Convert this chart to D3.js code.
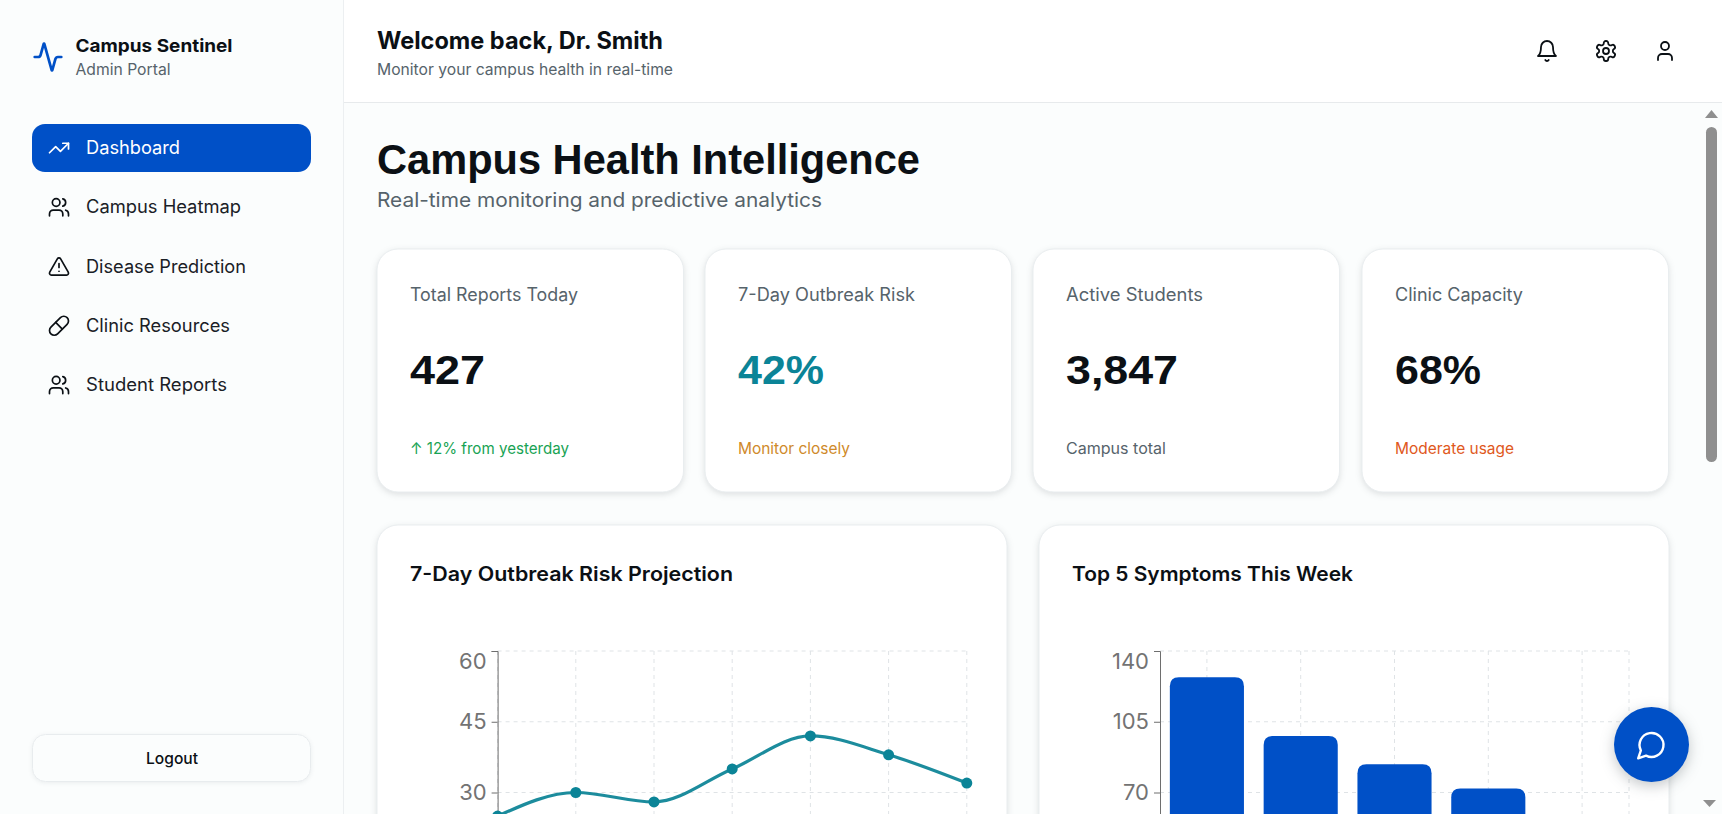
<!DOCTYPE html>
<html>
<head>
<meta charset="utf-8">
<title>Campus Sentinel</title>
<script src="https://cdn.jsdelivr.net/npm/d3@7"></script>
<style>
  html, body { margin: 0; padding: 0; background: #fbfdfd; overflow: hidden; }
  svg { display: block; }
  text { font-family: Inter, "Liberation Sans", sans-serif; }
  .card { filter: drop-shadow(0 2px 3px rgba(20, 30, 40, .13)); }
  .soft { filter: drop-shadow(0 1px 2px rgba(20, 30, 40, .07)); }
  .fab { filter: drop-shadow(0 4px 7px rgba(20, 30, 40, .25)); }
  .icon { fill: none; stroke-linecap: round; stroke-linejoin: round; }
</style>
</head>
<body>
<div class="chart"></div>
<script>
// chart data
var riskDays = ["Day 1", "Day 2", "Day 3", "Day 4", "Day 5", "Day 6", "Day 7"]; // labels are below the fold
var riskValues = [25, 30, 28, 35, 42, 38, 32];
var riskTicks = [30, 45, 60]; // 15 and 0 are below the fold

var symptomNames = ["Symptom 1", "Symptom 2", "Symptom 3", "Symptom 4", "Symptom 5"]; // labels are below the fold
var symptomValues = [127, 98, 84, 72, 45]; // last bar is below the fold, rough guess
var symptomTicks = [70, 105, 140]; // 35 and 0 are below the fold

var navLabels = ["Dashboard", "Campus Heatmap", "Disease Prediction", "Clinic Resources", "Student Reports"];
var navWidths = [94, 155, 160, 144, 141];

var statLabels = ["Total Reports Today", "7-Day Outbreak Risk", "Active Students", "Clinic Capacity"];
var statValues = ["427", "42%", "3,847", "68%"];
var statNotes = ["↑ 12% from yesterday", "Monitor closely", "Campus total", "Moderate usage"];

var blue = "#0050c7", teal = "#0b8497", ink = "#0b1015", gray = "#56636b";

// lucide icons
var icons = {
  activity: ["M22 12h-2.48a2 2 0 0 0-1.93 1.46l-2.35 8.36a.25.25 0 0 1-.48 0L9.24 2.18a.25.25 0 0 0-.48 0l-2.35 8.36A2 2 0 0 1 4.49 12H2"],
  trending: ["M22 7 13.5 15.5 8.5 10.5 2 17", "M16 7h6v6"],
  users: ["M16 21v-2a4 4 0 0 0-4-4H6a4 4 0 0 0-4 4v2", "M5 7a4 4 0 1 0 8 0a4 4 0 1 0-8 0", "M22 21v-2a4 4 0 0 0-3-3.87", "M16 3.13a4 4 0 0 1 0 7.75"],
  alert: ["m21.73 18-8-14a2 2 0 0 0-3.48 0l-8 14A2 2 0 0 0 4 21h16a2 2 0 0 0 1.73-3", "M12 9v4", "M12 17h.01"],
  pill: ["m10.5 20.5 10-10a4.95 4.95 0 1 0-7-7l-10 10a4.95 4.95 0 1 0 7 7Z", "m8.5 8.5 7 7"],
  bell: ["M6 8a6 6 0 0 1 12 0c0 7 3 9 3 9H3s3-2 3-9", "M10.3 21a1.94 1.94 0 0 0 3.4 0"],
  gear: ["M12.22 2h-.44a2 2 0 0 0-2 2v.18a2 2 0 0 1-1 1.73l-.43.25a2 2 0 0 1-2 0l-.15-.08a2 2 0 0 0-2.73.73l-.22.38a2 2 0 0 0 .73 2.73l.15.1a2 2 0 0 1 1 1.72v.51a2 2 0 0 1-1 1.74l-.15.09a2 2 0 0 0-.73 2.73l.22.38a2 2 0 0 0 2.73.73l.15-.08a2 2 0 0 1 2 0l.43.25a2 2 0 0 1 1 1.73V20a2 2 0 0 0 2 2h.44a2 2 0 0 0 2-2v-.18a2 2 0 0 1 1-1.73l.43-.25a2 2 0 0 1 2 0l.15.08a2 2 0 0 0 2.73-.73l.22-.39a2 2 0 0 0-.73-2.73l-.15-.08a2 2 0 0 1-1-1.74v-.5a2 2 0 0 1 1-1.74l.15-.09a2 2 0 0 0 .73-2.73l-.22-.38a2 2 0 0 0-2.73-.73l-.15.08a2 2 0 0 1-2 0l-.43-.25a2 2 0 0 1-1-1.73V4a2 2 0 0 0-2-2z", "M9 12a3 3 0 1 0 6 0a3 3 0 1 0-6 0"],
  user: ["M19 21v-2a4 4 0 0 0-4-4H9a4 4 0 0 0-4 4v2", "M8 7a4 4 0 1 0 8 0a4 4 0 1 0-8 0"],
  chat: ["M7.9 20A9 9 0 1 0 4 16.1L2 22Z"]
};

var svg = d3.select(".chart").append("svg")
  .attr("width", 1722)
  .attr("height", 814);

// text stretched to the width measured on the picture
var label = (parent, str, x, baseline, size, weight, fill, width, anchor) => {
  var t = parent.append("text")
    .attr("x", x)
    .attr("y", baseline)
    .attr("font-size", size)
    .attr("font-weight", weight)
    .attr("fill", fill)
    .attr("text-anchor", anchor || "start")
    .text(str);
  if (width) t.attr("textLength", width).attr("lengthAdjust", "spacingAndGlyphs");
  return t;
};

var drawIcon = (name, cx, cy, scale, color, strokeWidth) => {
  var g = svg.append("g")
    .attr("class", "icon")
    .attr("transform", `translate(${cx - 12 * scale}, ${cy - 12 * scale}) scale(${scale})`)
    .attr("stroke", color)
    .attr("stroke-width", strokeWidth / scale);
  icons[name].forEach(d => g.append("path").attr("d", d));
};

var box = (x, y, w, h, r, fill, stroke, cls) => svg.append("rect")
  .attr("class", cls || null)
  .attr("x", x).attr("y", y)
  .attr("width", w).attr("height", h)
  .attr("rx", r)
  .attr("fill", fill)
  .attr("stroke", stroke || "none");

// backgrounds
box(0, 0, 1722, 814, 0, "#fbfdfd");
box(344, 0, 1378, 103, 0, "#ffffff");
svg.append("line").attr("x1", 344).attr("x2", 1722).attr("y1", 102.5).attr("y2", 102.5).attr("stroke", "#e7eaec");
svg.append("line").attr("x1", 343.5).attr("x2", 343.5).attr("y1", 0).attr("y2", 814).attr("stroke", "#eceff1");

// sidebar
drawIcon("activity", 48, 57, 1.33, blue, 2.7);
label(svg, "Campus Sentinel", 75.5, 52, 17.6, 700, ink, 157);
label(svg, "Admin Portal", 75.5, 75, 15.4, 400, gray, 95);

box(32, 124, 279, 48, 13, blue);
var navIcons = ["trending", "users", "alert", "pill", "users"];
navLabels.forEach((d, i) => {
  var y = 148 + i * 59.25;
  drawIcon(navIcons[i], 59, y, 0.95, i == 0 ? "#ffffff" : ink, 1.7);
  label(svg, d, 86, y + 6, 18, 400, i == 0 ? "#ffffff" : "#1a2026", navWidths[i]);
});

box(32.5, 734.5, 278, 47, 13, "#fbfdfd", "#e8ecee", "soft");
label(svg, "Logout", 172, 764, 15.4, 500, ink, 52, "middle");

// header
label(svg, "Welcome back, Dr. Smith", 377, 49, 24, 700, ink, 286);
label(svg, "Monitor your campus health in real-time", 377, 75, 15.4, 400, gray, 296);
drawIcon("bell", 1547, 51, 1, ink, 1.8);
drawIcon("gear", 1606, 51, 1, ink, 1.8);
drawIcon("user", 1665, 51, 1, ink, 1.8);

// page title
label(svg, "Campus Health Intelligence", 377, 174, 42, 700, ink, 543).style("font-family", "'Liberation Sans'");
label(svg, "Real-time monitoring and predictive analytics", 377, 207, 20, 400, gray, 445);

// stat cards
var statX = [377, 705, 1033, 1362];
var statFill = [ink, teal, ink, ink];
var noteFill = ["#18a354", "#cf8a2a", gray, "#e0581c"];
var labelW = [168, 177, 137, 128], valueW = [75, 86, 112, 86], noteW = [159, 112, 100, 119];
statLabels.forEach((d, i) => {
  box(statX[i], 249, 306.5, 243, 21, "#ffffff", "#e9edef", "card");
  label(svg, d, statX[i] + 33, 301, 18, 400, gray, labelW[i]);
  label(svg, statValues[i], statX[i] + 33, 384, 40, 700, statFill[i], valueW[i]).style("font-family", "'Liberation Sans'");
  label(svg, statNotes[i], statX[i] + 33, 454, 15.4, 400, noteFill[i], noteW[i]);
});

// chart cards
box(377, 525, 630, 400, 21, "#ffffff", "#e9edef", "card");
box(1039, 525, 630, 400, 21, "#ffffff", "#e9edef", "card");
label(svg, "7-Day Outbreak Risk Projection", 410, 581, 20, 600, ink, 323);
label(svg, "Top 5 Symptoms This Week", 1072, 581, 20, 600, ink, 281);

var chartHeight = 283;

var styleAxis = g => {
  g.select(".domain").attr("stroke", "#6e6e6e");
  g.selectAll(".tick line").attr("stroke", "#6e6e6e");
  g.selectAll(".tick text")
    .attr("fill", "#737373")
    .attr("font-size", 22)
    .attr("font-family", "Inter, 'Liberation Sans', sans-serif");
  // the top label sits under its tick, not centred on it
  g.selectAll(".tick").filter((d, i, nodes) => i == nodes.length - 1)
    .select("text")
    .attr("dy", "0.8em");
};

var gridLines = (g, xs, ys, xEnd) => {
  g.selectAll("line.gridx").data(xs).enter().append("line")
    .attr("x1", d => d).attr("x2", d => d)
    .attr("y1", 0).attr("y2", chartHeight);
  g.selectAll("line.gridy").data(ys).enter().append("line")
    .attr("x1", 0).attr("x2", xEnd)
    .attr("y1", d => d).attr("y2", d => d);
  g.selectAll("line")
    .attr("stroke", "#dfe3e6")
    .attr("stroke-dasharray", "4 4");
};

// line chart
var riskWidth = 469.2;
var riskGroup = svg.append("g").attr("transform", "translate(497.6, 651)");
var riskX = d3.scalePoint().domain(riskDays).range([0, riskWidth]);
var riskY = d3.scaleLinear().domain([0, 60]).range([chartHeight, 0]);

gridLines(riskGroup.append("g"), riskDays.map(d => riskX(d)), riskTicks.map(d => riskY(d)), riskWidth);

riskGroup.append("g")
  .call(d3.axisLeft(riskY).tickValues(riskTicks).tickPadding(5))
  .call(styleAxis);

var riskLine = d3.line()
  .x((d, i) => riskX(riskDays[i]))
  .y(d => riskY(d))
  .curve(d3.curveMonotoneX);

riskGroup.append("path")
  .datum(riskValues)
  .attr("d", riskLine)
  .attr("fill", "none")
  .attr("stroke", "#1c8c9d")
  .attr("stroke-width", 3.2);

riskGroup.selectAll("circle")
  .data(riskValues)
  .enter()
  .append("circle")
  .attr("cx", (d, i) => riskX(riskDays[i]))
  .attr("cy", d => riskY(d))
  .attr("r", 5.5)
  .attr("fill", teal);

// bar chart
var symptomWidth = 469;
var symptomGroup = svg.append("g").attr("transform", "translate(1160, 651)");
var symptomX = d3.scaleBand().domain(symptomNames).range([0, symptomWidth]).paddingInner(0.21).paddingOuter(0.105);
var symptomY = d3.scaleLinear().domain([0, 140]).range([chartHeight, 0]);

var bandCenters = symptomNames.map(d => symptomX(d) + symptomX.bandwidth() / 2);
gridLines(symptomGroup.append("g"), bandCenters.concat([symptomWidth]), symptomTicks.map(d => symptomY(d)), symptomWidth);

symptomGroup.append("g")
  .call(d3.axisLeft(symptomY).tickValues(symptomTicks).tickPadding(5))
  .call(styleAxis);

// rounded top corners only
var barPath = (x, y, w, h, r) => `M${x},${y + h}V${y + r}Q${x},${y} ${x + r},${y}H${x + w - r}Q${x + w},${y} ${x + w},${y + r}V${y + h}Z`;

symptomGroup.selectAll("path.bar")
  .data(symptomValues)
  .enter()
  .append("path")
  .attr("class", "bar")
  .attr("d", (d, i) => barPath(symptomX(symptomNames[i]), symptomY(d), symptomX.bandwidth(), chartHeight - symptomY(d), 9))
  .attr("fill", blue);

// chat button
svg.append("circle")
  .attr("class", "fab")
  .attr("cx", 1651.5).attr("cy", 744.5).attr("r", 37.5)
  .attr("fill", blue);
drawIcon("chat", 1651.5, 745, 1.33, "#ffffff", 2.4);

// scrollbar
var scrollFill = "#8f8f8f";
svg.append("path").attr("d", "M1705,118L1711.5,110L1718,118Z").attr("fill", scrollFill);
box(1706, 127, 11, 335, 5.5, scrollFill);
svg.append("path").attr("d", "M1703,800L1716,800L1709.5,807Z").attr("fill", scrollFill);
</script>
</body>
</html>
